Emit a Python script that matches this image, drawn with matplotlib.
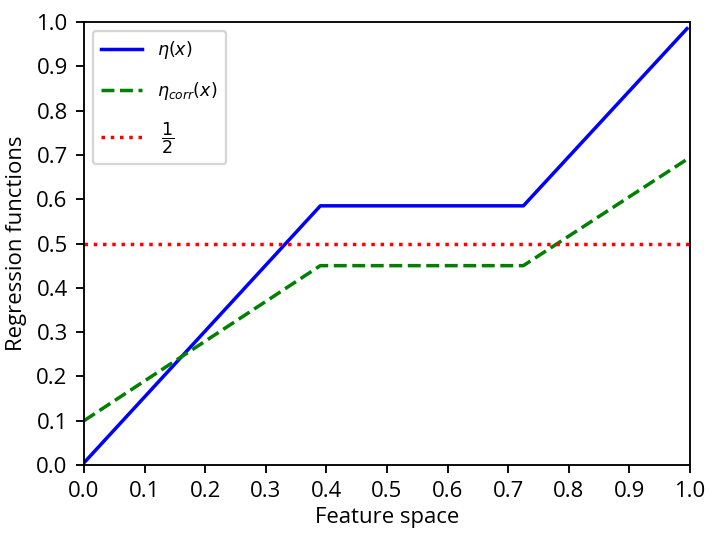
import numpy as np
import matplotlib
matplotlib.use("Agg")
import matplotlib.pyplot as plt

plt.rcParams['font.family'] = ['Open Sans', 'DejaVu Sans']
plt.rcParams['mathtext.fontset'] = 'dejavusans'

# Breakpoints
x_pts = [0.0, 0.39, 0.725, 0.995]
eta = [0.005, 0.585, 0.585, 0.985]
eta_corr = [0.10, 0.45, 0.45, 0.69]
half = 0.5

dpi = 167.6
fig = plt.figure(figsize=(724 / dpi, 544 / dpi), dpi=dpi)
ax = fig.add_axes([84 / 724, 1 - 465 / 544, (690 - 84) / 724, (465 - 22) / 544])

ax.plot(x_pts, eta, color='blue', linewidth=1.5, label=r'$\eta(x)$')
ax.plot(x_pts, eta_corr, color='green', linestyle='--', linewidth=1.5, label=r'$\eta_{corr}(x)$')
ax.plot([0, 1], [half, half], color='red', linestyle=':', linewidth=1.5, label=r'$\;\dfrac{1}{2}$')

ax.set_xlim(0, 1)
ax.set_ylim(0, 1)
ax.set_xticks(np.arange(0, 1.01, 0.1))
ax.set_yticks(np.arange(0, 1.01, 0.1))
ax.tick_params(labelsize=9.5)
ax.set_xlabel('Feature space', fontsize=9.5, labelpad=2)
ax.set_ylabel('Regression functions', fontsize=9.5)
ax.legend(loc='upper left', fontsize=7.5, handlelength=2.3, handletextpad=0.9,
          labelspacing=1.05, borderpad=0.5)

fig.savefig('out.png', dpi=dpi)
